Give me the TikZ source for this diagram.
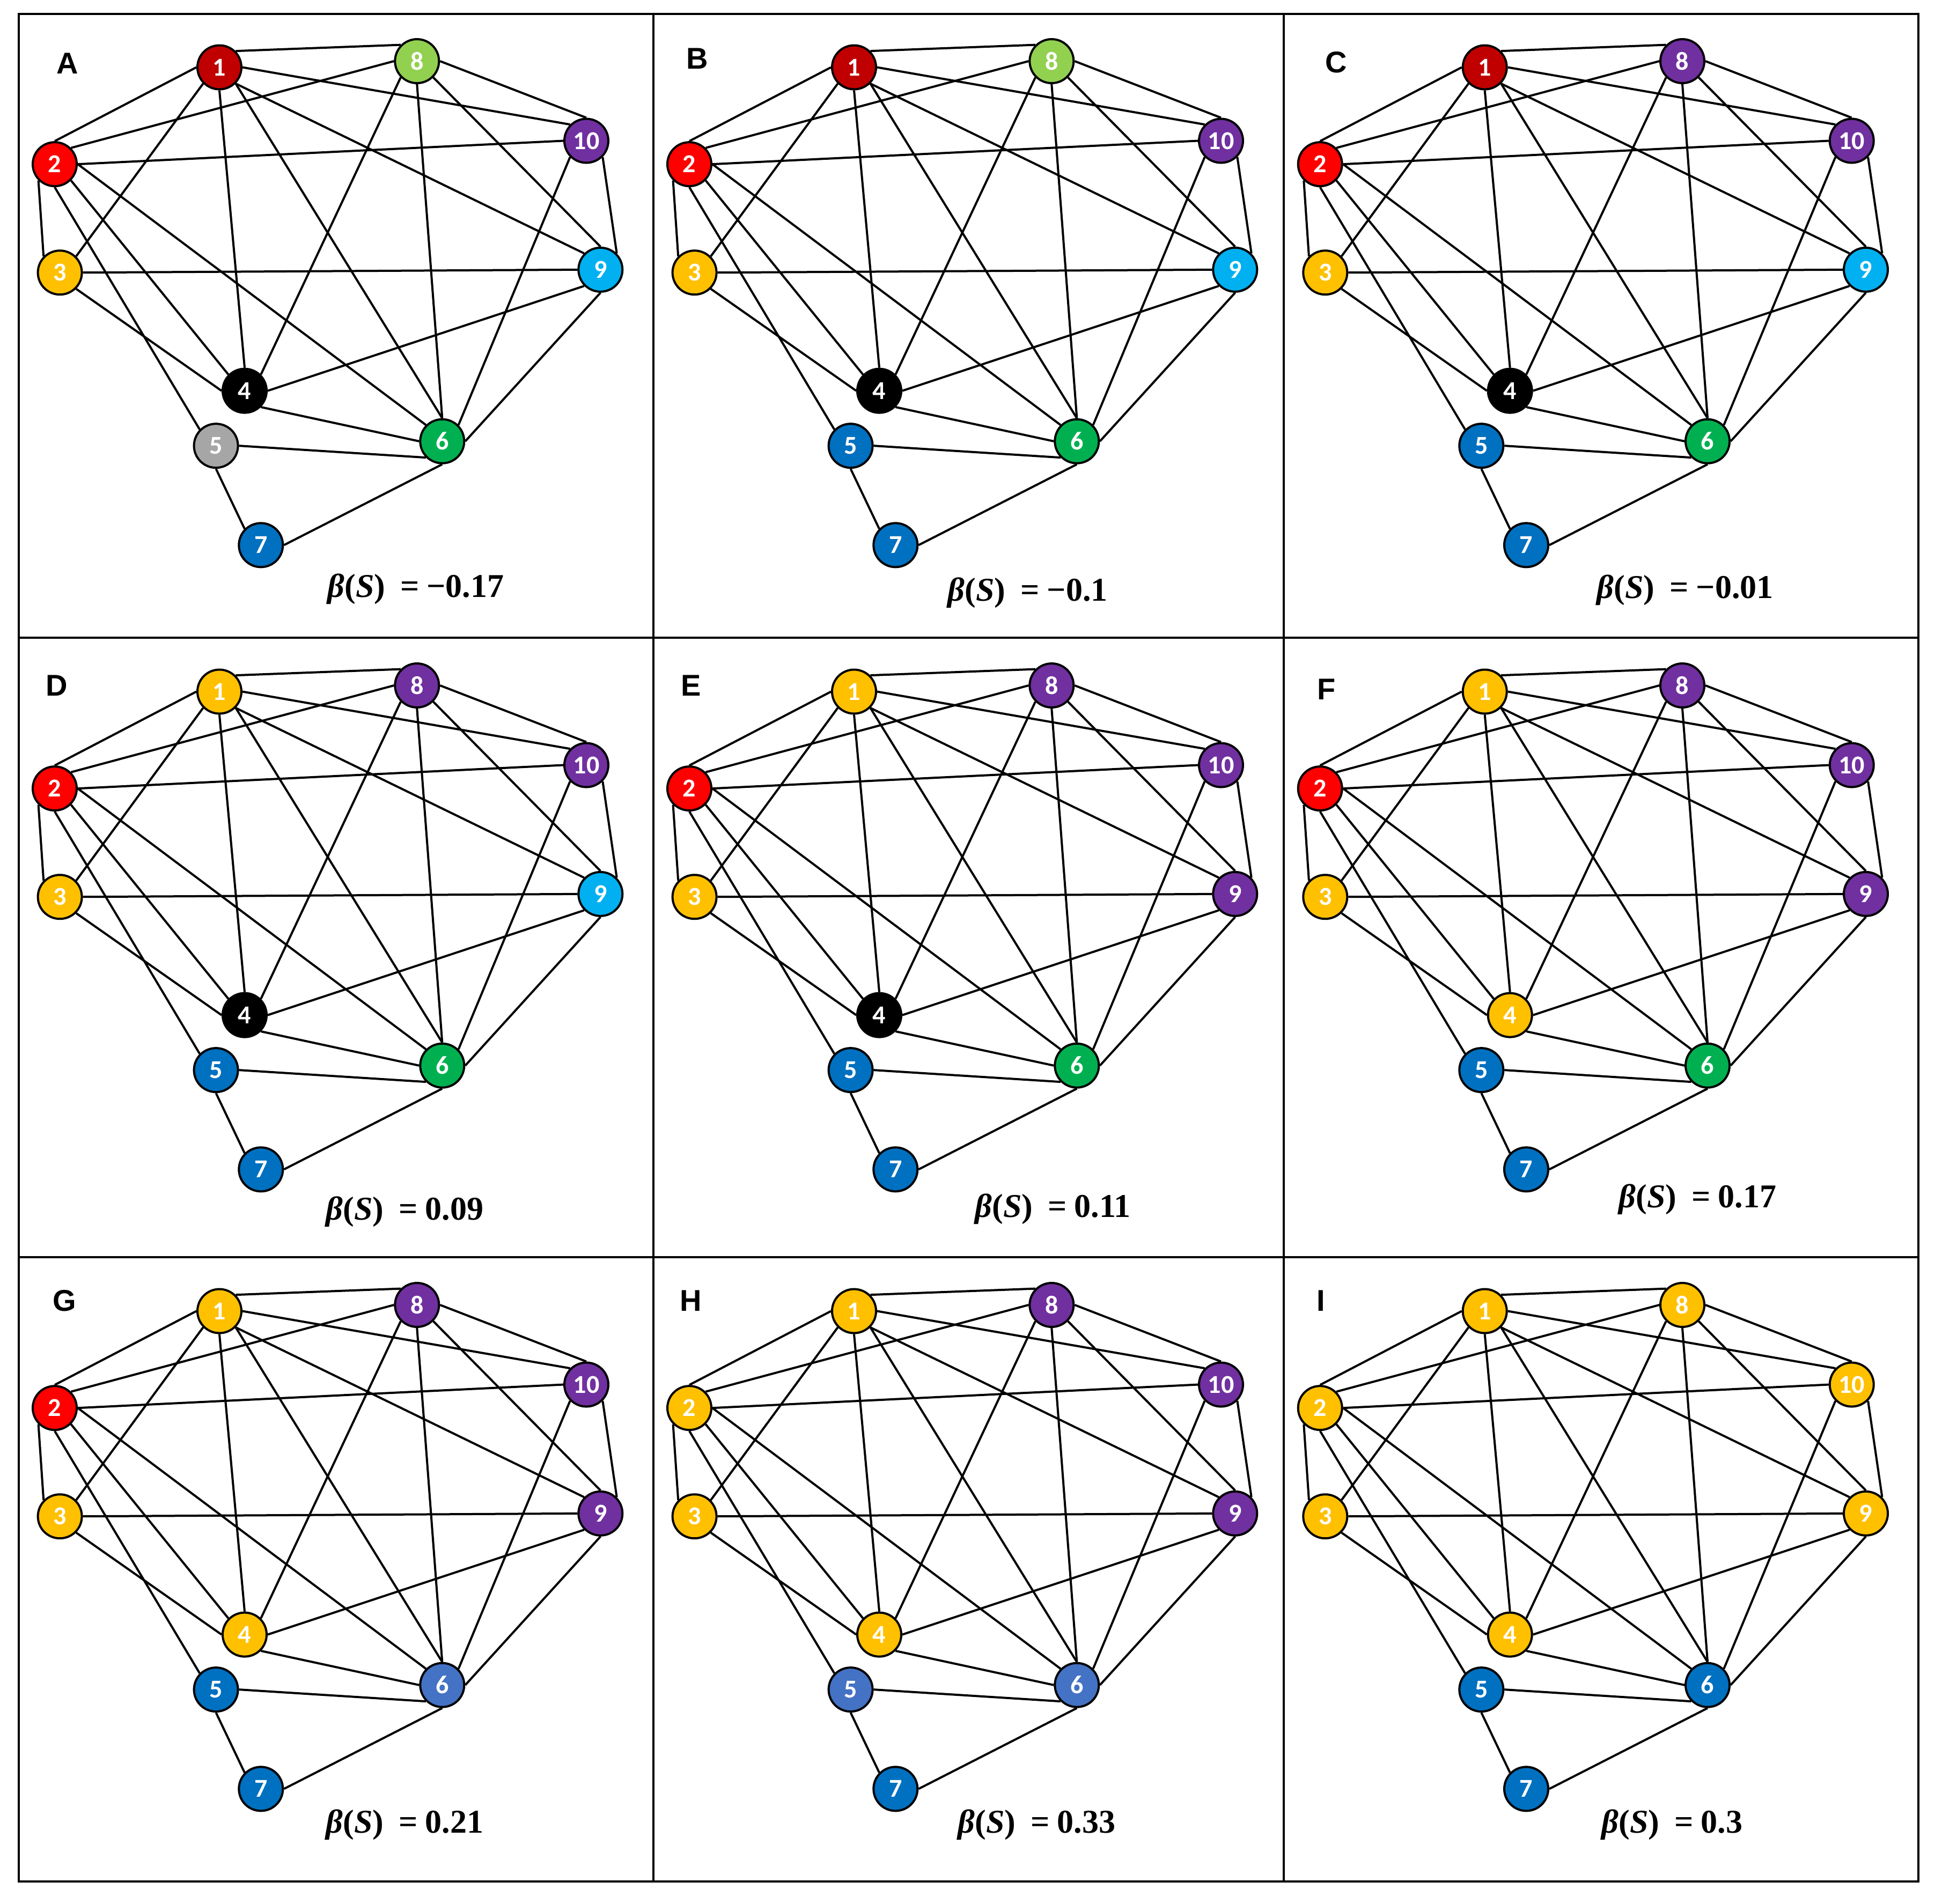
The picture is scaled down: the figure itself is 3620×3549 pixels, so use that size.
\documentclass[tikz,border=0pt]{standalone}
\usepackage{fontspec}
\setmainfont{Liberation Serif}
\newfontfamily\nodefont{Carlito}
\newfontfamily\letterfont{Liberation Sans}
\usetikzlibrary{backgrounds}
\definecolor{cDR}{HTML}{C00000}
\definecolor{cR}{HTML}{FF0000}
\definecolor{cGold}{HTML}{FFC000}
\definecolor{cBlack}{HTML}{000000}
\definecolor{cGray}{HTML}{A6A6A6}
\definecolor{cGreen}{HTML}{00B050}
\definecolor{cBlue}{HTML}{0070C0}
\definecolor{cMBlue}{HTML}{4472C4}
\definecolor{cLGreen}{HTML}{92D050}
\definecolor{cLBlue}{HTML}{00B0F0}
\definecolor{cPurple}{HTML}{7030A0}
\tikzset{
  gnode/.style={circle, draw=black, line width=1pt, minimum size=20.5pt, inner sep=0pt,
    text=white, font={\nodefont\bfseries\fontsize{12}{14}\selectfont}},
  edge/.style={draw=black, line width=1pt},
  frame/.style={draw=black, line width=1pt},
  betalab/.style={anchor=base west, inner sep=0pt, font={\fontsize{15.5}{17}\selectfont}},
  panlab/.style={anchor=base, inner sep=0pt, font={\letterfont\bfseries\fontsize{14}{16}\selectfont}}
}
\newcommand\setcols[9]{\colorlet{col1}{#1}\colorlet{col2}{#2}\colorlet{col3}{#3}%
  \colorlet{col4}{#4}\colorlet{col5}{#5}\colorlet{col6}{#6}\colorlet{col7}{#7}%
  \colorlet{col8}{#8}\colorlet{col9}{#9}}
\newcommand\betatext[1]{{\bfseries\itshape β}\textbf{(}{\bfseries\itshape S}\textbf{)}\hspace{7pt}\textbf{=}\hspace{3.5pt}\textbf{#1}}
\newcommand\graphpanel[3]{%
  \begin{scope}[shift={(#2,#3)}]
    \node[gnode, fill=col1] (#1-1) at (409.0,125.5) {1};
    \node[gnode, fill=col8] (#1-8) at (777.3,114.0) {8};
    \node[gnode, fill=col2] (#1-2) at (102.0,306.1) {2};
    \node[gnode, fill=col10] (#1-10) at (1093.0,262.5) {10};
    \node[gnode, fill=col3] (#1-3) at (111.6,508.2) {3};
    \node[gnode, fill=col9] (#1-9) at (1119.3,502.8) {9};
    \node[gnode, fill=col4] (#1-4) at (456.0,728.6) {4};
    \node[gnode, fill=col5] (#1-5) at (402.6,831.1) {5};
    \node[gnode, fill=col6] (#1-6) at (824.3,822.7) {6};
    \node[gnode, fill=col7] (#1-7) at (486.3,1016.3) {7};
    \begin{pgfonlayer}{background}
      \draw[edge] (#1-1.north east) -- (#1-8.north west);
      \draw[edge] (#1-1.west) -- (#1-2.north);
      \draw[edge] (#1-1.south west) -- (#1-3.north east);
      \draw[edge] (#1-1.south) -- (#1-4.north);
      \draw[edge] (#1-1.south east) -- (#1-6.north);
      \draw[edge] (#1-1.east) -- (#1-10.north west);
      \draw[edge] (#1-1.south east) -- (#1-9.north west);
      \draw[edge] (#1-8.west) -- (#1-2.north east);
      \draw[edge] (#1-8.south west) -- (#1-4.north east);
      \draw[edge] (#1-8.south) -- (#1-6.north);
      \draw[edge] (#1-8.east) -- (#1-10.north);
      \draw[edge] (#1-8.south east) -- (#1-9.north);
      \draw[edge] (#1-2.east) -- (#1-10.west);
      \draw[edge] (#1-2.south west) -- (#1-3.north west);
      \draw[edge] (#1-2.south east) -- (#1-4.north west);
      \draw[edge] (#1-2.east) -- (#1-6.north west);
      \draw[edge] (#1-2.south) -- (#1-5.north west);
      \draw[edge] (#1-3.east) -- (#1-9.west);
      \draw[edge] (#1-3.south east) -- (#1-4.west);
      \draw[edge] (#1-10.south east) -- (#1-9.north east);
      \draw[edge] (#1-10.south west) -- (#1-6.north east);
      \draw[edge] (#1-9.south west) -- (#1-4.east);
      \draw[edge] (#1-9.south) -- (#1-6.east);
      \draw[edge] (#1-4.south east) -- (#1-6.west);
      \draw[edge] (#1-5.east) -- (#1-6.south west);
      \draw[edge] (#1-5.south) -- (#1-7.north west);
      \draw[edge] (#1-6.south) -- (#1-7.east);
    \end{pgfonlayer}
  \end{scope}}
\begin{document}
\begin{tikzpicture}[x=0.25pt, y=-0.25pt]
  \useasboundingbox (0,0) rectangle (3620,3549);
  % frame and dividers
  \draw[frame] (35,25.7) rectangle (3576,3507.5);
  \draw[frame] (1217.7,25.7) -- (1217.7,3507.5);
  \draw[frame] (2393.3,25.7) -- (2393.3,3507.5);
  \draw[frame] (35,1189) -- (3576,1189);
  \draw[frame] (35,2344) -- (3576,2344);
  % Panel A
  \begin{scope}
    \setcols{cDR}{cR}{cGold}{cBlack}{cGray}{cGreen}{cBlue}{cLGreen}{cLBlue}\colorlet{col10}{cPurple}
    \graphpanel{A}{0}{0}
  \end{scope}
  % Panel B
  \begin{scope}
    \setcols{cDR}{cR}{cGold}{cBlack}{cBlue}{cGreen}{cBlue}{cLGreen}{cLBlue}\colorlet{col10}{cPurple}
    \graphpanel{B}{1183}{0}
  \end{scope}
  % Panel C
  \begin{scope}
    \setcols{cDR}{cR}{cGold}{cBlack}{cBlue}{cGreen}{cBlue}{cPurple}{cLBlue}\colorlet{col10}{cPurple}
    \graphpanel{C}{2358.7}{0}
  \end{scope}
  % Panel D
  \begin{scope}
    \setcols{cGold}{cR}{cGold}{cBlack}{cBlue}{cGreen}{cBlue}{cPurple}{cLBlue}\colorlet{col10}{cPurple}
    \graphpanel{D}{0}{1164}
  \end{scope}
  % Panel E
  \begin{scope}
    \setcols{cGold}{cR}{cGold}{cBlack}{cBlue}{cGreen}{cBlue}{cPurple}{cPurple}\colorlet{col10}{cPurple}
    \graphpanel{E}{1183}{1164}
  \end{scope}
  % Panel F
  \begin{scope}
    \setcols{cGold}{cR}{cGold}{cGold}{cBlue}{cGreen}{cBlue}{cPurple}{cPurple}\colorlet{col10}{cPurple}
    \graphpanel{F}{2358.7}{1164}
  \end{scope}
  % Panel G
  \begin{scope}
    \setcols{cGold}{cR}{cGold}{cGold}{cBlue}{cMBlue}{cBlue}{cPurple}{cPurple}\colorlet{col10}{cPurple}
    \graphpanel{G}{0}{2319}
  \end{scope}
  % Panel H
  \begin{scope}
    \setcols{cGold}{cGold}{cGold}{cGold}{cMBlue}{cMBlue}{cBlue}{cPurple}{cPurple}\colorlet{col10}{cPurple}
    \graphpanel{H}{1183}{2319}
  \end{scope}
  % Panel I
  \begin{scope}
    \setcols{cGold}{cGold}{cGold}{cGold}{cBlue}{cBlue}{cBlue}{cGold}{cGold}\colorlet{col10}{cGold}
    \graphpanel{I}{2358.7}{2319}
  \end{scope}
  % panel letters
  \node[panlab] (LA) at (126,137) {A};
  \node[panlab] (LB) at (1300,128) {B};
  \node[panlab] (LC) at (2491,135) {C};
  \node[panlab] (LD) at (106,1297) {D};
  \node[panlab] (LE) at (1288,1297) {E};
  \node[panlab] (LF) at (2473,1304) {F};
  \node[panlab] (LG) at (120,2444) {G};
  \node[panlab] (LH) at (1288,2444) {H};
  \node[panlab] (LI) at (2462,2444) {I};
  % beta labels
  \node[betalab] (bA) at (610,1113) {\betatext{−0.17}};
  \node[betalab] (bB) at (1766,1120) {\betatext{−0.1}};
  \node[betalab] (bC) at (2976,1115) {\betatext{−0.01}};
  \node[betalab] (bD) at (607,2274) {\betatext{0.09}};
  \node[betalab] (bE) at (1817,2269) {\betatext{0.11}};
  \node[betalab] (bF) at (3017,2251) {\betatext{0.17}};
  \node[betalab] (bG) at (607,3417) {\betatext{0.21}};
  \node[betalab] (bH) at (1785,3417) {\betatext{0.33}};
  \node[betalab] (bI) at (2985,3417) {\betatext{0.3}};
\end{tikzpicture}
\end{document}
